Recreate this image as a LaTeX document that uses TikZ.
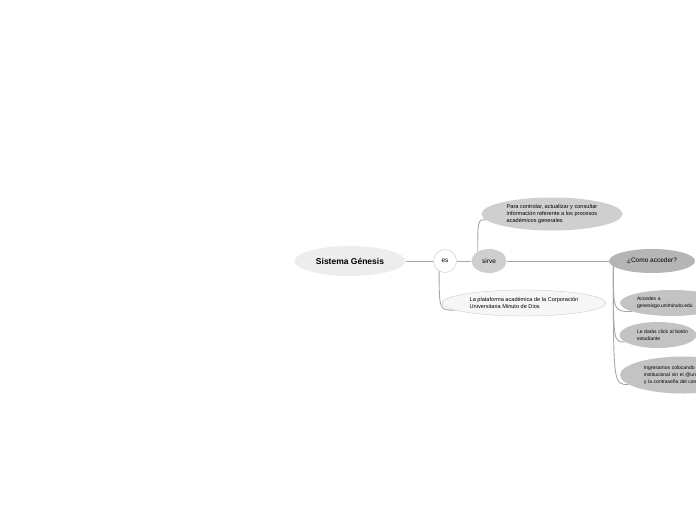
\documentclass[tikz,border=0pt]{standalone}
\usepackage{fontspec}
\setmainfont{Liberation Sans}
\usetikzlibrary{shapes.geometric,backgrounds}
\definecolor{linea}{HTML}{A8A8A8}
\tikzset{
    %Define style for bubbles
    punkt/.style={
           ellipse,
           inner sep=0pt,
           align=left,
           font=\fontsize{5.6}{7.2}\selectfont},
    raiz/.style={punkt, fill=gray!14, font=\fontsize{8.5}{10}\selectfont\bfseries},
    circulo/.style={punkt, circle, draw=gray!45, fill=white, font=\fontsize{6.5}{8}\selectfont},
    medio/.style={punkt, fill=gray!38},
    oscuro/.style={punkt, fill=gray!58, font=\fontsize{6.5}{8}\selectfont},
    hijo/.style={punkt, fill=gray!47, font=\fontsize{5}{7.2}\selectfont},
    % Define connector style
    pil/.style={
           draw=linea,
           line width=0.9pt}
}
\begin{document}
\begin{tikzpicture}[x=1pt,y=-1pt]
\useasboundingbox (0,0) rectangle (696,520);
\clip (0,0) rectangle (696,520);
 %nodes
\node[raiz, minimum width=111, minimum height=30](genesis) at (350,261){Sistema Génesis};
\node[circulo, minimum size=23](es) at (445,261){es};
\node[medio, minimum width=35, minimum height=24, font=\fontsize{6.5}{8}\selectfont](sirve) at (489,261){sirve};
\node[medio, minimum width=141, minimum height=33](para) at (552,214){Para controlar, actualizar y consultar\\información referente a los procesos\\académicos generales};
\node[punkt, draw=gray!40, fill=gray!7, minimum width=164, minimum height=26](plataforma) at (524,303){La plataforma académica de la Corporación\\Universitaria Minuto de Dios};
\node[oscuro, minimum width=86, minimum height=24](acceder) at (652,261){¿Como acceder?};
\node[hijo, minimum width=104, minimum height=26, text width=70](accedes) at (672,303){Accedes a\\genesisgo.uniminuto.edu};
\node[hijo, minimum width=77, minimum height=26, text width=42](click) at (658,335){\mbox{Le darás click al botón}\\estudiante};
\node[hijo, minimum width=126, minimum height=37, text width=78](ingresamos) at (683,375){\mbox{Ingresamos colocando nuestro usuario}\\\mbox{institucional sin el @uniminuto.edu.co}\\\mbox{y la contraseña del correo}};

 %connectors
\begin{pgfonlayer}{background}
\path[pil]
    (genesis) -- (es)
    (es) -- (sirve)
    (sirve) -- (acceder);
\draw[pil] (sirve.140) .. controls (sirve.140 |- para.185) .. (para.185);
\draw[pil] (es.240) .. controls (es.240 |- plataforma.186) .. (plataforma.186);
\draw[pil] (acceder.188) .. controls (acceder.188 |- accedes.192) .. (accedes.192);
\draw[pil] (acceder.188) .. controls (acceder.188 |- click.192) .. (click.192);
\draw[pil] (acceder.188) .. controls (acceder.188 |- ingresamos.190) .. (ingresamos.190);
\end{pgfonlayer}
\end{tikzpicture}
\end{document}
